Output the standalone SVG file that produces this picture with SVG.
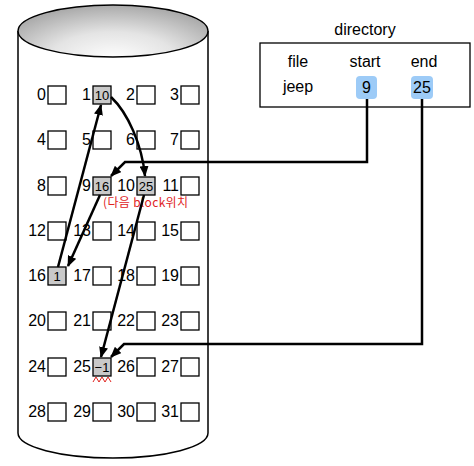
<svg xmlns="http://www.w3.org/2000/svg" width="474" height="466" viewBox="0 0 474 466">
<style>
.lbl{font-family:"Liberation Sans",Arial,sans-serif;font-size:16px;fill:#000;text-anchor:end}
.box{fill:#fff;stroke:#000;stroke-width:1.3}
.used{fill:#c9c9c9;stroke:#000;stroke-width:1.3}
.in{font-family:"Liberation Sans",Arial,sans-serif;font-size:13px;fill:#000;text-anchor:middle}
.dir{font-family:"Liberation Sans",Arial,sans-serif;font-size:16px;fill:#000;text-anchor:middle}
.arr{fill:none;stroke:#000;stroke-width:2.5;marker-end:url(#ah)}
</style>
<defs>
<marker id="ah" markerUnits="userSpaceOnUse" markerWidth="11" markerHeight="9" refX="10" refY="4.5" orient="auto"><path d="M0,0 L11,4.5 L0,9 z" fill="#000"/></marker>
<radialGradient id="disk" cx="0.5" cy="1.05" r="0.95" gradientTransform="translate(0.5,1.05) scale(1,1.6) translate(-0.5,-1.05)"><stop offset="0" stop-color="#ffffff"/><stop offset="0.35" stop-color="#e4e4e4"/><stop offset="0.75" stop-color="#a0a0a0"/><stop offset="1" stop-color="#6a6a6a"/></radialGradient>
</defs>
<g id="disk-cylinder">
<path d="M18,31 V433 A95,25 0 0 0 208,433 V31" fill="#fff" stroke="#000" stroke-width="1.5"/>
<ellipse cx="113" cy="31" rx="95" ry="26" fill="url(#disk)" stroke="#000" stroke-width="1.5"/>
</g>
<g id="blocks">
<g id="b0"><text class="lbl" x="46" y="100">0</text><rect class="box" x="48" y="86" width="18" height="18"/></g>
<g id="b1"><text class="lbl" x="91" y="100">1</text><rect class="used" x="93" y="86" width="18" height="18"/><text class="in" x="102" y="100">10</text></g>
<g id="b2"><text class="lbl" x="135" y="100">2</text><rect class="box" x="137" y="86" width="18" height="18"/></g>
<g id="b3"><text class="lbl" x="179" y="100">3</text><rect class="box" x="181" y="86" width="18" height="18"/></g>
<g id="b4"><text class="lbl" x="46" y="145">4</text><rect class="box" x="48" y="131" width="18" height="18"/></g>
<g id="b5"><text class="lbl" x="91" y="145">5</text><rect class="box" x="93" y="131" width="18" height="18"/></g>
<g id="b6"><text class="lbl" x="135" y="145">6</text><rect class="box" x="137" y="131" width="18" height="18"/></g>
<g id="b7"><text class="lbl" x="179" y="145">7</text><rect class="box" x="181" y="131" width="18" height="18"/></g>
<g id="b8"><text class="lbl" x="46" y="191">8</text><rect class="box" x="48" y="177" width="18" height="18"/></g>
<g id="b9"><text class="lbl" x="91" y="191">9</text><rect class="used" x="93" y="177" width="18" height="18"/><text class="in" x="102" y="191">16</text></g>
<g id="b10"><text class="lbl" x="135" y="191">10</text><rect class="used" x="137" y="177" width="18" height="18"/><text class="in" x="146" y="191">25</text></g>
<g id="b11"><text class="lbl" x="179" y="191">11</text><rect class="box" x="181" y="177" width="18" height="18"/></g>
<g id="b12"><text class="lbl" x="46" y="236">12</text><rect class="box" x="48" y="222" width="18" height="18"/></g>
<g id="b13"><text class="lbl" x="91" y="236">13</text><rect class="box" x="93" y="222" width="18" height="18"/></g>
<g id="b14"><text class="lbl" x="135" y="236">14</text><rect class="box" x="137" y="222" width="18" height="18"/></g>
<g id="b15"><text class="lbl" x="179" y="236">15</text><rect class="box" x="181" y="222" width="18" height="18"/></g>
<g id="b16"><text class="lbl" x="46" y="281">16</text><rect class="used" x="48" y="267" width="18" height="18"/><text class="in" x="57" y="281">1</text></g>
<g id="b17"><text class="lbl" x="91" y="281">17</text><rect class="box" x="93" y="267" width="18" height="18"/></g>
<g id="b18"><text class="lbl" x="135" y="281">18</text><rect class="box" x="137" y="267" width="18" height="18"/></g>
<g id="b19"><text class="lbl" x="179" y="281">19</text><rect class="box" x="181" y="267" width="18" height="18"/></g>
<g id="b20"><text class="lbl" x="46" y="326">20</text><rect class="box" x="48" y="312" width="18" height="18"/></g>
<g id="b21"><text class="lbl" x="91" y="326">21</text><rect class="box" x="93" y="312" width="18" height="18"/></g>
<g id="b22"><text class="lbl" x="135" y="326">22</text><rect class="box" x="137" y="312" width="18" height="18"/></g>
<g id="b23"><text class="lbl" x="179" y="326">23</text><rect class="box" x="181" y="312" width="18" height="18"/></g>
<g id="b24"><text class="lbl" x="46" y="372">24</text><rect class="box" x="48" y="358" width="18" height="18"/></g>
<g id="b25"><text class="lbl" x="91" y="372">25</text><rect class="used" x="93" y="358" width="18" height="18"/><text class="in" x="102" y="372">−1</text></g>
<g id="b26"><text class="lbl" x="135" y="372">26</text><rect class="box" x="137" y="358" width="18" height="18"/></g>
<g id="b27"><text class="lbl" x="179" y="372">27</text><rect class="box" x="181" y="358" width="18" height="18"/></g>
<g id="b28"><text class="lbl" x="46" y="417">28</text><rect class="box" x="48" y="403" width="18" height="18"/></g>
<g id="b29"><text class="lbl" x="91" y="417">29</text><rect class="box" x="93" y="403" width="18" height="18"/></g>
<g id="b30"><text class="lbl" x="135" y="417">30</text><rect class="box" x="137" y="403" width="18" height="18"/></g>
<g id="b31"><text class="lbl" x="179" y="417">31</text><rect class="box" x="181" y="403" width="18" height="18"/></g>
</g>
<g id="directory">
<text class="dir" x="365" y="35">directory</text>
<rect x="260" y="43" width="210" height="64" fill="#fff" stroke="#000" stroke-width="1.3"/>
<text class="dir" x="298" y="67">file</text>
<text class="dir" x="365" y="67">start</text>
<text class="dir" x="424" y="67">end</text>
<text class="dir" x="298" y="92">jeep</text>
<rect x="356" y="76" width="21" height="23" rx="4" fill="#9dcbf7"/>
<rect x="411" y="76" width="22" height="23" rx="4" fill="#9dcbf7"/>
<text class="dir" x="366.5" y="93">9</text>
<text class="dir" x="422" y="93">25</text>
</g>
<g id="annotations">
<text x="103" y="207" font-family="'Noto Sans CJK KR','Noto Sans',sans-serif" font-size="12" fill="#e0231e" textLength="85" lengthAdjust="spacing">(다음 block위치</text>
<polyline points="93,382 96,377 99,382 102,377 105,382 108,377 111,382" fill="none" stroke="#e0231e" stroke-width="1"/>
</g>
<g id="connectors">
<path class="arr" d="M111,97 C128,113 142,145 145,176"/>
<path class="arr" d="M144,195 L101,357"/>
<path class="arr" d="M100,195 L68,266"/>
<path class="arr" d="M58,267 L101,105"/>
<path class="arr" d="M367,99 V162 H125 L111,176"/>
<path class="arr" d="M422,99 V344 H124 L111,357"/>
</g>
</svg>
